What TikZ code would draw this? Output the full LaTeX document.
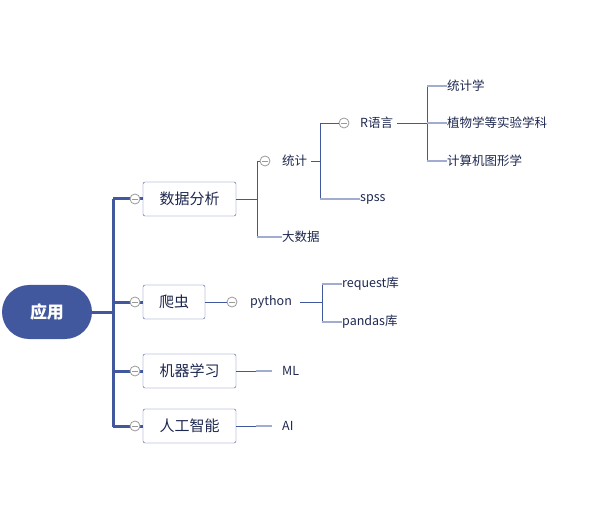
\documentclass[tikz,border=0pt]{standalone}
\usepackage{fontspec}
\setmainfont{Noto Sans CJK SC}
\begin{document}
\begin{tikzpicture}[x=1pt,y=-1pt,
  ln/.style={draw=main,line width=0.9pt},
  lt/.style={draw=light,line width=1.2pt},
  tr/.style={draw=main,line width=3pt},
  col/.style={circle,draw=gray!80,fill=white,line width=0.8pt,minimum size=10pt,inner sep=0pt,
    path picture={\draw[gray!80,line width=0.8pt] ([xshift=-3pt]path picture bounding box.center)--([xshift=3pt]path picture bounding box.center);}},
  box/.style={draw=main,rounded corners=2pt,fill=white,minimum height=34pt,font=\fontsize{15}{15}\selectfont,text=txt,inner sep=0pt},
  lf/.style={anchor=west,font=\fontsize{12.5}{13}\selectfont,text=txt,inner sep=0pt}]
\definecolor{main}{RGB}{66,88,158}
\definecolor{light}{RGB}{160,172,208}
\definecolor{txt}{RGB}{30,40,80}
\useasboundingbox (0,0) rectangle (600,513);
\node[fill=main,rounded corners=27pt,minimum width=90pt,minimum height=54pt,text=white,font=\bfseries\fontsize{17}{17}\selectfont] (root) at (47,312) {应用};
\coordinate (t1) at (113,199); \coordinate (t4) at (113,427); \coordinate (tm) at (113,312);
\draw[tr] (root.east) -- (tm);
\draw[tr] (t1) -- (t4);
\node[box,minimum width=93pt] (sj) at (189.5,199) {数据分析};
\node[box,minimum width=62pt] (pc) at (174,302) {爬虫};
\node[box,minimum width=93pt] (jq) at (189.5,371) {机器学习};
\node[box,minimum width=93pt] (rg) at (189.5,426) {人工智能};
\foreach \n/\y in {sj/199,pc/302,jq/371,rg/426}{
  \coordinate (b\n) at (113,\y);
  \draw[tr] (b\n) -- (\n.west);
  \node[col] (c\n) at (135,\y) {};
}
% 数据分析
\coordinate (v1a) at (257,161); \coordinate (v1b) at (257,237); \coordinate (v1m) at (257,199);
\draw[ln] (sj.east) -- (v1m); \draw[ln] (v1a) -- (v1b);
\node[lf] (tj) at (282,161) {统计};
\node[lf] (dsj) at (282,237) {大数据};
\draw[ln] (v1a) -- (262,161); \node[col] (ctj) at (265,161) {};
\draw[lt] (v1b) -- (dsj.west);
% 统计
\coordinate (v2a) at (320,123); \coordinate (v2b) at (320,199); \coordinate (v2m) at (320,161);
\draw[ln] (tj.east)++(4,0) -- (v2m); \draw[ln] (v2a) -- (v2b);
\node[lf] (r) at (360,123) {R语言};
\node[lf] (spss) at (360,199) {spss};
\node[col] (cr) at (344,123) {};
\draw[ln] (v2a) -- (cr); \draw[lt] (v2b) -- (spss.west);
% R
\coordinate (v3a) at (427,86); \coordinate (v3b) at (427,161); \coordinate (v3m) at (427,123);
\draw[ln] (r.east)++(4,0) -- (v3m); \draw[ln] (v3a) -- (v3b);
\node[lf] (l1) at (447,86) {统计学};
\node[lf] (l2) at (447,123) {植物学等实验学科};
\node[lf] (l3) at (447,161) {计算机图形学};
\draw[lt] (v3a) -- (l1.west); \draw[lt] (v3m) -- (l2.west); \draw[lt] (v3b) -- (l3.west);
% 爬虫
\node[col] (cpy) at (232,302) {};
\node[lf] (py) at (250,302) {python};
\draw[ln] (pc.east) -- (cpy);
\coordinate (v4a) at (322,284); \coordinate (v4b) at (322,322); \coordinate (v4m) at (322,302);
\draw[ln] (py.east)++(8,0) -- (v4m); \draw[ln] (v4a) -- (v4b);
\node[lf] (req) at (342,284) {request库};
\node[lf] (pd) at (342,322) {pandas库};
\draw[lt] (v4a) -- (req.west); \draw[lt] (v4b) -- (pd.west);
% ML AI
\node[lf] (ml) at (282,371) {ML};
\node[lf] (ai) at (282,426) {AI};
\draw[ln] (jq.east) -- ++(20,0) coordinate (m1); \draw[lt] (m1) -- (272,371);
\draw[ln] (rg.east) -- ++(20,0) coordinate (m2); \draw[lt] (m2) -- (272,426);
\end{tikzpicture}
\end{document}
